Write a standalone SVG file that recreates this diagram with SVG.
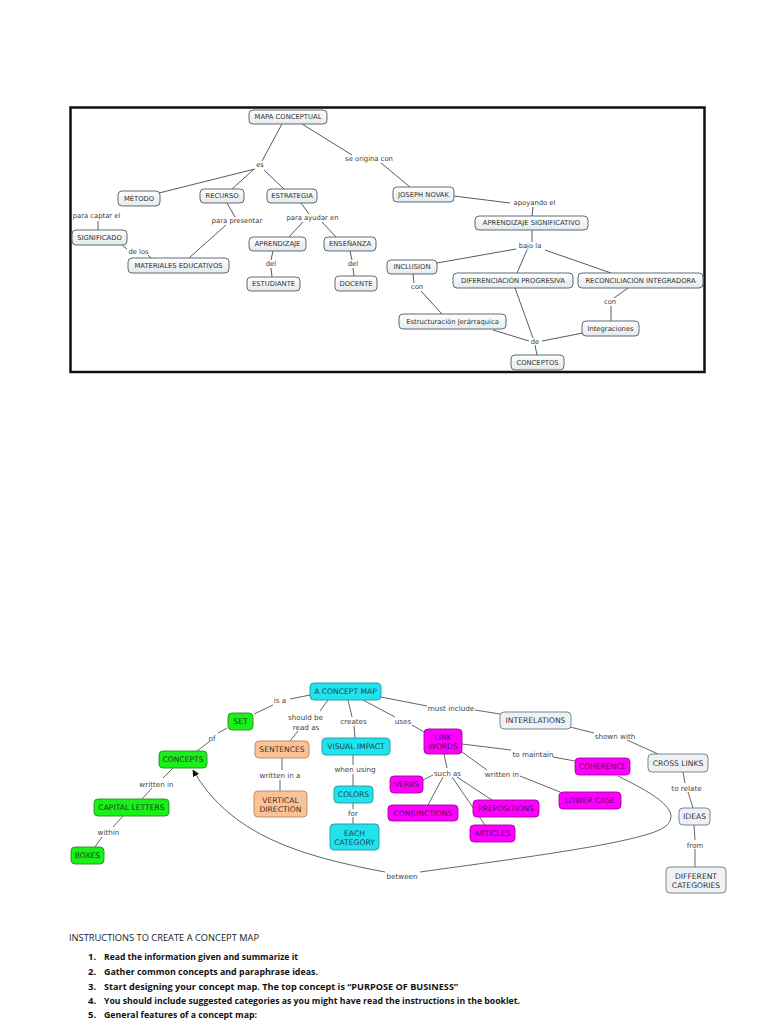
<svg xmlns="http://www.w3.org/2000/svg" width="768" height="1024" viewBox="0 0 768 1024">
<defs>
<linearGradient id="gtop" x1="0" y1="0" x2="0" y2="1"><stop offset="0" stop-color="#ffffff"/><stop offset="1" stop-color="#e3eaee"/></linearGradient>
<marker id="arr" viewBox="0 0 10 10" refX="9" refY="5" markerWidth="7" markerHeight="7" orient="auto-start-reverse" markerUnits="userSpaceOnUse"><path d="M0,0 L10,5 L0,10 z" fill="#111"/></marker>
<style>
.tn rect{fill:url(#gtop);stroke:#5f6a70;stroke-width:1}
.tn text{font-family:"DejaVu Sans",sans-serif;font-size:6.8px;fill:#333;text-anchor:middle;dominant-baseline:central}
.tl{font-family:"DejaVu Sans",sans-serif;font-size:6.8px;fill:#3a3a3a;text-anchor:middle;dominant-baseline:central}
.tc line{stroke:#5a5a5a;stroke-width:1}
.bn rect{stroke-width:0.9}
.bn text{font-family:"DejaVu Sans",sans-serif;font-size:7.6px;text-anchor:middle;dominant-baseline:central}
.g rect{fill:#18f018;stroke:#2a8a2a}.g text{fill:#1c3a1c}
.o rect{fill:#f9c397;stroke:#b98560}.o text{fill:#4a2e1a}
.c rect{fill:#22e2ec;stroke:#1a9aa2}.c text{fill:#124a4e}
.m rect{fill:#ff00ff;stroke:#a000a0}.m text{fill:#5a0c5a}
.w rect{fill:#eef2f4;stroke:#6e7a80}.w text{fill:#333}
.bl{font-family:"DejaVu Sans",sans-serif;font-size:7.2px;fill:#444;text-anchor:middle;dominant-baseline:central}
.bc line,.bc path{stroke:#555;stroke-width:0.9;fill:none}
.ins{font-family:"Open Sans","Liberation Sans",sans-serif;font-size:9.5px;fill:#1a1a1a}
.insb{font-family:"Open Sans","Liberation Sans",sans-serif;font-size:9.5px;fill:#111;font-weight:bold}
</style>
</defs>
<rect width="768" height="1024" fill="#ffffff"/>

<!-- TOP DIAGRAM -->
<rect x="70.5" y="107.5" width="634" height="264.5" fill="#ffffff" stroke="#111" stroke-width="2.5"/>
<g id="top-connectors" class="tc">
<line x1="282" y1="124" x2="262" y2="161"/>
<line x1="302" y1="124" x2="352" y2="155"/>
<line x1="381" y1="163" x2="410" y2="187"/>
<line x1="255" y1="169" x2="159" y2="193"/>
<line x1="253" y1="170" x2="232" y2="189"/>
<line x1="264" y1="170" x2="284" y2="189"/>
<line x1="98" y1="221" x2="98" y2="230"/>
<line x1="122" y1="245" x2="127" y2="249"/>
<line x1="148" y1="255" x2="151" y2="258"/>
<line x1="227" y1="203" x2="235" y2="217"/>
<line x1="226" y1="225" x2="189" y2="258"/>
<line x1="301" y1="203" x2="309" y2="214"/>
<line x1="303" y1="222" x2="289" y2="237"/>
<line x1="322" y1="222" x2="336" y2="237"/>
<line x1="273" y1="251" x2="271" y2="260"/>
<line x1="271" y1="268" x2="272" y2="277"/>
<line x1="350" y1="251" x2="352" y2="260"/>
<line x1="353" y1="268" x2="354" y2="276"/>
<line x1="454" y1="196" x2="510" y2="203"/>
<line x1="533" y1="207" x2="532" y2="216"/>
<line x1="532" y1="230" x2="532" y2="242"/>
<line x1="516" y1="249" x2="437" y2="263"/>
<line x1="527" y1="250" x2="517" y2="273"/>
<line x1="545" y1="250" x2="611" y2="273"/>
<line x1="413" y1="274" x2="414" y2="283"/>
<line x1="421" y1="291" x2="442" y2="314"/>
<line x1="628" y1="288" x2="614" y2="298"/>
<line x1="611" y1="306" x2="611" y2="321"/>
<line x1="493" y1="330" x2="529" y2="341"/>
<line x1="583" y1="333" x2="542" y2="341"/>
<line x1="515" y1="288" x2="533" y2="338"/>
<line x1="535" y1="345" x2="537" y2="355"/>
</g>
<g id="top-labels">
<text class="tl" x="260" y="165">es</text>
<text class="tl" x="369" y="159">se origina con</text>
<text class="tl" x="96.5" y="216">para captar el</text>
<text class="tl" x="237" y="221">para presentar</text>
<text class="tl" x="312.5" y="218">para ayudar en</text>
<text class="tl" x="138.5" y="252">de los</text>
<text class="tl" x="271" y="264">del</text>
<text class="tl" x="353" y="264">del</text>
<text class="tl" x="534.5" y="203">apoyando el</text>
<text class="tl" x="530" y="246">bajo la</text>
<text class="tl" x="417" y="287">con</text>
<text class="tl" x="610" y="302">con</text>
<text class="tl" x="535" y="342">de</text>
</g>
<g id="n-mapa" class="tn"><rect x="249" y="110" width="78" height="14" rx="4"/><text x="288" y="117">MAPA CONCEPTUAL</text></g>
<g id="n-metodo" class="tn"><rect x="118" y="191" width="42" height="15" rx="4"/><text x="139" y="198.5">MÉTODO</text></g>
<g id="n-recurso" class="tn"><rect x="200" y="189" width="44" height="14" rx="4"/><text x="222" y="196">RECURSO</text></g>
<g id="n-estrategia" class="tn"><rect x="267" y="189" width="50" height="14" rx="4"/><text x="292" y="196">ESTRATEGIA</text></g>
<g id="n-significado" class="tn"><rect x="72" y="230" width="55" height="15" rx="4"/><text x="99.5" y="237.5">SIGNIFICADO</text></g>
<g id="n-materiales" class="tn"><rect x="128" y="258" width="101" height="15" rx="4"/><text x="178.5" y="265.5">MATERIALES EDUCATIVOS</text></g>
<g id="n-aprendizaje" class="tn"><rect x="249" y="237" width="57" height="14" rx="4"/><text x="277.5" y="244">APRENDIZAJE</text></g>
<g id="n-ensenanza" class="tn"><rect x="324" y="237" width="52" height="14" rx="4"/><text x="350" y="244">ENSEÑANZA</text></g>
<g id="n-estudiante" class="tn"><rect x="247" y="277" width="53" height="14" rx="4"/><text x="273.5" y="284">ESTUDIANTE</text></g>
<g id="n-docente" class="tn"><rect x="335" y="276" width="42" height="15" rx="4"/><text x="356" y="283.5">DOCENTE</text></g>
<g id="n-novak" class="tn"><rect x="393" y="187" width="61" height="15" rx="4"/><text x="423.5" y="194.5">JOSEPH NOVAK</text></g>
<g id="n-aprsig" class="tn"><rect x="475" y="216" width="113" height="14" rx="4"/><text x="531.5" y="223">APRENDIZAJE SIGNIFICATIVO</text></g>
<g id="n-inclusion" class="tn"><rect x="387" y="260" width="50" height="14" rx="4"/><text x="412" y="267">INCLUSION</text></g>
<g id="n-diferenciacion" class="tn"><rect x="453" y="273" width="120" height="15" rx="4"/><text x="513" y="280.5">DIFERENCIACIÓN PROGRESIVA</text></g>
<g id="n-reconciliacion" class="tn"><rect x="578" y="273" width="125" height="15" rx="4"/><text x="640.5" y="280.5">RECONCILIACIÓN INTEGRADORA</text></g>
<g id="n-estructuracion" class="tn"><rect x="399" y="314" width="107" height="15" rx="4"/><text x="452.5" y="321.5">Estructuración Jerárraquica</text></g>
<g id="n-integraciones" class="tn"><rect x="582" y="321" width="57" height="15" rx="4"/><text x="610.5" y="328.5">Integraciones</text></g>
<g id="n-conceptos" class="tn"><rect x="511" y="355" width="53" height="15" rx="4"/><text x="537.5" y="362.5">CONCEPTOS</text></g>

<!-- BOTTOM DIAGRAM -->
<g id="bottom-connectors" class="bc">
<line x1="290" y1="699" x2="310" y2="695"/>
<line x1="273" y1="705" x2="254" y2="714"/>
<line x1="227" y1="728" x2="218" y2="733"/>
<line x1="210" y1="741" x2="197" y2="751"/>
<line x1="173" y1="768" x2="163" y2="778"/>
<line x1="152" y1="788" x2="142" y2="799"/>
<line x1="123" y1="816" x2="113" y2="827"/>
<line x1="102" y1="837" x2="95" y2="847"/>
<line x1="328" y1="700" x2="320" y2="711"/>
<line x1="298" y1="731" x2="290" y2="741"/>
<line x1="282" y1="758" x2="282" y2="770"/>
<line x1="280" y1="780" x2="280" y2="791"/>
<line x1="348" y1="700" x2="352" y2="717"/>
<line x1="354" y1="726" x2="355" y2="738"/>
<line x1="353" y1="755" x2="353" y2="765"/>
<line x1="353" y1="774" x2="353" y2="786"/>
<line x1="353" y1="803" x2="353" y2="809"/>
<line x1="353" y1="817" x2="353" y2="824"/>
<line x1="363" y1="700" x2="395" y2="717"/>
<line x1="412" y1="725" x2="424" y2="732"/>
<line x1="381" y1="697" x2="427" y2="706"/>
<line x1="475" y1="710" x2="500" y2="714"/>
<line x1="570" y1="727" x2="594" y2="733"/>
<line x1="627" y1="740" x2="658" y2="754"/>
<line x1="683" y1="772" x2="685" y2="783"/>
<line x1="688" y1="792" x2="693" y2="808"/>
<line x1="694" y1="825" x2="695" y2="840"/>
<line x1="695" y1="849" x2="695" y2="867"/>
<line x1="462" y1="744" x2="511" y2="750"/>
<line x1="553" y1="757" x2="575" y2="761"/>
<line x1="444" y1="754" x2="447" y2="768"/>
<line x1="433" y1="775" x2="423" y2="780"/>
<line x1="443" y1="777" x2="428" y2="805"/>
<line x1="457" y1="777" x2="492" y2="800"/>
<line x1="452" y1="777" x2="485" y2="825"/>
<line x1="462" y1="752" x2="487" y2="770"/>
<line x1="520" y1="776" x2="560" y2="792"/>
<path d="M618,776 C650,792 684,810 666,826 C648,842 520,858 420,872"/>
<path d="M385,872 C300,856 230,835 193,770" marker-end="url(#arr)"/>
</g>
<g id="bottom-labels">
<text class="bl" x="280" y="700">is a</text>
<text class="bl" x="212" y="738">of</text>
<text class="bl" x="156.5" y="784">written in</text>
<text class="bl" x="108.5" y="832">within</text>
<text class="bl" x="305.5" y="717">should be</text>
<text class="bl" x="306" y="727">read as</text>
<text class="bl" x="280" y="775">written in a</text>
<text class="bl" x="353.5" y="721">creates</text>
<text class="bl" x="403" y="721">uses</text>
<text class="bl" x="451" y="708">must include</text>
<text class="bl" x="355" y="769">when using</text>
<text class="bl" x="353" y="813">for</text>
<text class="bl" x="447.5" y="773">such as</text>
<text class="bl" x="502" y="774">written in</text>
<text class="bl" x="533" y="754">to maintain</text>
<text class="bl" x="615" y="736">shown with</text>
<text class="bl" x="686.5" y="788">to relate</text>
<text class="bl" x="695" y="845">from</text>
<text class="bl" x="402" y="876">between</text>
</g>
<g id="b-concept-map" class="bn c"><rect x="310" y="683" width="71" height="17" rx="4"/><text x="345.5" y="691.5">A CONCEPT MAP</text></g>
<g id="b-set" class="bn g"><rect x="228" y="713" width="25" height="17" rx="4"/><text x="240.5" y="721.5">SET</text></g>
<g id="b-concepts" class="bn g"><rect x="159" y="751" width="48" height="17" rx="4"/><text x="183" y="759.5">CONCEPTS</text></g>
<g id="b-capital" class="bn g"><rect x="94" y="799" width="75" height="17" rx="4"/><text x="131.5" y="807.5">CAPITAL LETTERS</text></g>
<g id="b-boxes" class="bn g"><rect x="71" y="847" width="33" height="17" rx="4"/><text x="87.5" y="855.5">BOXES</text></g>
<g id="b-sentences" class="bn o"><rect x="255" y="741" width="54" height="17" rx="4"/><text x="282" y="749.5">SENTENCES</text></g>
<g id="b-vertical" class="bn o"><rect x="254" y="791" width="53" height="26" rx="4"/><text x="280.5" y="800">VERTICAL</text><text x="280.5" y="809">DIRECTION</text></g>
<g id="b-visual" class="bn c"><rect x="322" y="738" width="68" height="17" rx="4"/><text x="356" y="746.5">VISUAL IMPACT</text></g>
<g id="b-colors" class="bn c"><rect x="334" y="786" width="39" height="17" rx="4"/><text x="353.5" y="794.5">COLORS</text></g>
<g id="b-each" class="bn c"><rect x="330" y="824" width="49" height="26" rx="4"/><text x="354.5" y="833">EACH</text><text x="354.5" y="842">CATEGORY</text></g>
<g id="b-link" class="bn m"><rect x="424" y="729" width="38" height="25" rx="4"/><text x="443" y="737.5">LINK</text><text x="443" y="746.5">WORDS</text></g>
<g id="b-interelations" class="bn w"><rect x="500" y="712" width="71" height="17" rx="4"/><text x="535.5" y="720.5">INTERELATIONS</text></g>
<g id="b-coherence" class="bn m"><rect x="575" y="758" width="55" height="17" rx="4"/><text x="602.5" y="766.5">COHERENCE</text></g>
<g id="b-verbs" class="bn m"><rect x="390" y="776" width="33" height="17" rx="4"/><text x="406.5" y="784.5">VERBS</text></g>
<g id="b-conjunctions" class="bn m"><rect x="388" y="805" width="70" height="16" rx="4"/><text x="423" y="813">CONJUNCTIONS</text></g>
<g id="b-prepositions" class="bn m"><rect x="473" y="800" width="66" height="17" rx="4"/><text x="506" y="808.5">PREPOSITIONS</text></g>
<g id="b-articles" class="bn m"><rect x="470" y="825" width="45" height="17" rx="4"/><text x="492.5" y="833.5">ARTICLES</text></g>
<g id="b-lowercase" class="bn m"><rect x="559" y="792" width="62" height="17" rx="4"/><text x="590" y="800.5">LOWER CASE</text></g>
<g id="b-crosslinks" class="bn w"><rect x="648" y="754" width="60" height="18" rx="4"/><text x="678" y="763">CROSS LINKS</text></g>
<g id="b-ideas" class="bn w"><rect x="679" y="808" width="31" height="17" rx="4"/><text x="694.5" y="816.5">IDEAS</text></g>
<g id="b-different" class="bn w"><rect x="666" y="867" width="60" height="26" rx="4"/><text x="696" y="876">DIFFERENT</text><text x="696" y="885">CATEGORIES</text></g>

<!-- INSTRUCTIONS -->
<g id="instructions">
<text class="ins" x="69" y="940.5" textLength="190" lengthAdjust="spacingAndGlyphs">INSTRUCTIONS TO CREATE A CONCEPT MAP</text>
<text class="insb" x="88" y="959.5">1.</text>
<text class="insb" x="104" y="959.5" textLength="194" lengthAdjust="spacingAndGlyphs">Read the information given and summarize it</text>
<text class="insb" x="88" y="974.5">2.</text>
<text class="insb" x="104" y="974.5" textLength="214" lengthAdjust="spacingAndGlyphs">Gather common concepts and paraphrase ideas.</text>
<text class="insb" x="88" y="989.5">3.</text>
<text class="insb" x="104" y="989.5" textLength="354" lengthAdjust="spacingAndGlyphs">Start designing your concept map. The top concept is “PURPOSE OF BUSINESS”</text>
<text class="insb" x="88" y="1003.5">4.</text>
<text class="insb" x="104" y="1003.5" textLength="416" lengthAdjust="spacingAndGlyphs">You should include suggested categories as you might have read the instructions in the booklet.</text>
<text class="insb" x="88" y="1017.5">5.</text>
<text class="insb" x="104" y="1017.5" textLength="153" lengthAdjust="spacingAndGlyphs">General features of a concept map:</text>
</g>
</svg>
